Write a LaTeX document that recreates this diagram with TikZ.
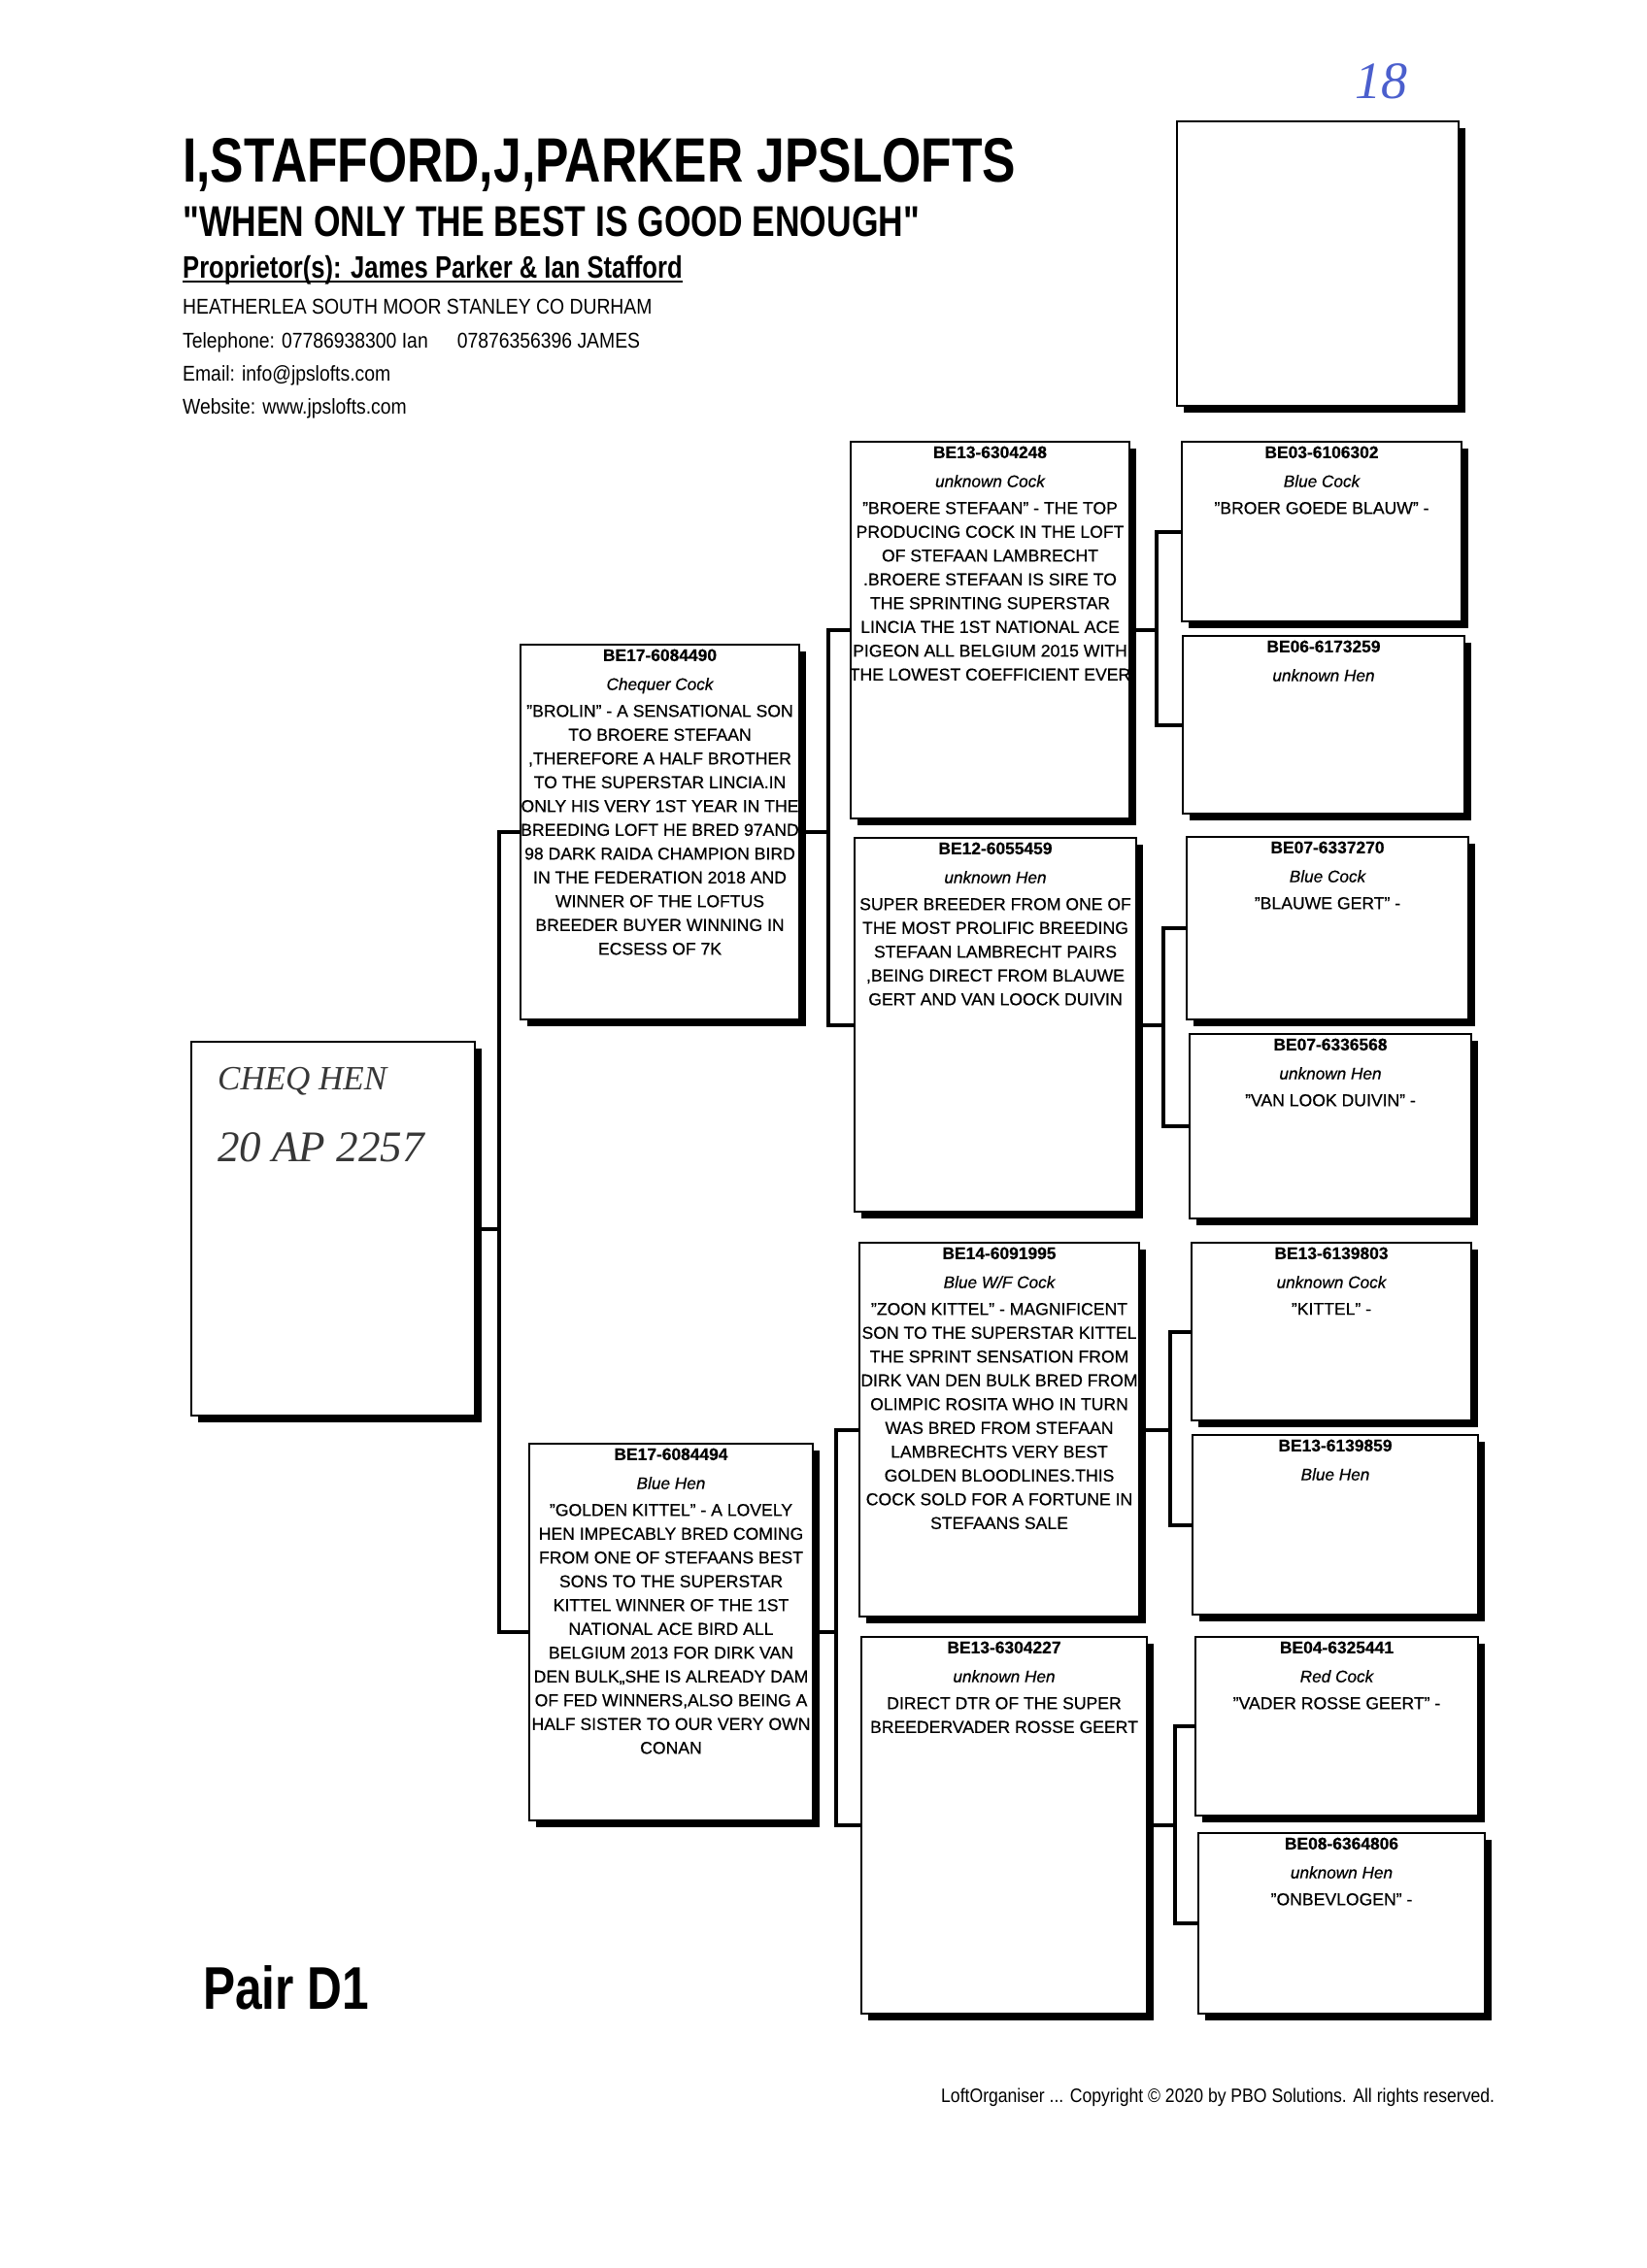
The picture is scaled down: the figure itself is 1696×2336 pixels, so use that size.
\documentclass[tikz,border=0pt]{standalone}
\usepackage{fontspec}
\setmainfont{Liberation Sans}[FakeBold=0.5]
\newfontfamily\headfont{Liberation Sans}[FakeStretch=0.80]
\newfontfamily\addrfont{Liberation Sans}[FakeStretch=0.88]
\newfontfamily\handfont{Liberation Serif}
\usetikzlibrary{shadows,backgrounds}
\definecolor{inkblue}{RGB}{75,95,205}
\definecolor{pencil}{RGB}{55,55,55}
\newcommand{\qt}{\char34\relax}
\tikzset{
  pbox/.style={rectangle, draw=black, line width=1.3pt, fill=white, inner sep=0pt,
    drop shadow={shadow xshift=7pt, shadow yshift=-7pt, opacity=1, fill=black}},
  link/.style={line width=4pt, line join=miter},
  ringtxt/.style={anchor=base, inner sep=0pt, font=\bfseries\fontsize{17.4}{24.5}\selectfont},
  colrtxt/.style={anchor=base, inner sep=0pt, font=\itshape\fontsize{17.2}{24.5}\selectfont},
  desctxt/.style={anchor=north, inner sep=0pt, align=center, font=\fontsize{17.6}{24.5}\selectfont},
  headtxt/.style={anchor=base west, inner sep=0pt},
}
% #1 name, #2 x1, #3 y1, #4 x2, #5 y2, #6 ring, #7 colour, #8 description
\newcommand{\birdbox}[8]{%
  \node[pbox, minimum width={(#4)-(#2)}, minimum height={(#5)-(#3)}] (#1) at ({((#2)+(#4))/2},{((#3)+(#5))/2}) {};
  \node[ringtxt] (#1r) at ([yshift=-17.5pt]#1.north) {#6};
  \node[colrtxt] (#1c) at ([yshift=-47.3pt]#1.north) {#7};
  \node[desctxt] (#1d) at ([yshift=-62.5pt]#1.north) {#8};
}
\newcommand{\birdboxshort}[7]{%
  \node[pbox, minimum width={(#4)-(#2)}, minimum height={(#5)-(#3)}] (#1) at ({((#2)+(#4))/2},{((#3)+(#5))/2}) {};
  \node[ringtxt] (#1r) at ([yshift=-17.5pt]#1.north) {#6};
  \node[colrtxt] (#1c) at ([yshift=-47.3pt]#1.north) {#7};
}
\begin{document}
\begin{tikzpicture}[x=1pt,y=-1pt]
\useasboundingbox (0,0) rectangle (1696,2336);

% ---------- header ----------
\node[headtxt, font=\headfont\bfseries\fontsize{64.5}{70}\selectfont] (title) at (188,188) {I,STAFFORD,J,PARKER JPSLOFTS};
\node[headtxt, font=\headfont\bfseries\fontsize{44.3}{50}\selectfont] (motto) at (188,243) {\qt WHEN ONLY THE BEST IS GOOD ENOUGH\qt};
\node[headtxt, font=\headfont\bfseries\fontsize{32}{36}\selectfont] (prop) at (188,286) {Proprietor(s): James Parker \& Ian Stafford};
\draw[line width=2.5pt] ([yshift=-4pt]prop.base west) -- ([yshift=-4pt]prop.base east);
\node[headtxt, font=\addrfont\fontsize{22}{26}\selectfont] (addr) at (188,323) {HEATHERLEA SOUTH MOOR STANLEY CO DURHAM};
\node[headtxt, font=\addrfont\fontsize{22}{26}\selectfont] (tel) at (188,358) {Telephone: 07786938300 Ian\hspace{30pt}07876356396 JAMES};
\node[headtxt, font=\addrfont\fontsize{22}{26}\selectfont] (mail) at (188,392) {Email: info@jpslofts.com};
\node[headtxt, font=\addrfont\fontsize{22}{26}\selectfont] (web) at (188,426) {Website: www.jpslofts.com};

\node[font=\handfont\itshape\fontsize{54}{60}\selectfont, text=inkblue] (pageno) at (1422,84) {18};

% ---------- photo box ----------
\node[pbox, minimum width=290, minimum height=293] (photo) at (1357,271.5) {};

% ---------- subject ----------
\node[pbox, minimum width=292, minimum height=385] (subj) at (343,1265.5) {};
\node[headtxt, font=\handfont\itshape\fontsize{35}{40}\selectfont, text=pencil] (hand1) at (224,1122) {CHEQ HEN};
\node[headtxt, font=\handfont\itshape\fontsize{45}{50}\selectfont, text=pencil] (hand2) at (224,1196) {20 AP 2257};

% ---------- parents ----------
\birdbox{S}{536}{664}{823}{1050}{BE17-6084490}{Chequer Cock}{\qt BROLIN\qt{} - A SENSATIONAL SON\\TO BROERE STEFAAN\\,THEREFORE A HALF BROTHER\\TO THE SUPERSTAR LINCIA.IN\\ONLY HIS VERY 1ST YEAR IN THE\\BREEDING LOFT HE BRED 97AND\\98 DARK RAIDA CHAMPION BIRD\\IN THE FEDERATION 2018 AND\\WINNER OF THE LOFTUS\\BREEDER BUYER WINNING IN\\ECSESS OF 7K}
\birdbox{D}{545}{1487}{837}{1875}{BE17-6084494}{Blue Hen}{\qt GOLDEN KITTEL\qt{} - A LOVELY\\HEN IMPECABLY BRED COMING\\FROM ONE OF STEFAANS BEST\\SONS TO THE SUPERSTAR\\KITTEL WINNER OF THE 1ST\\NATIONAL ACE BIRD ALL\\BELGIUM 2013 FOR DIRK VAN\\DEN BULK,,SHE IS ALREADY DAM\\OF FED WINNERS,ALSO BEING A\\HALF SISTER TO OUR VERY OWN\\CONAN}

% ---------- grandparents ----------
\birdbox{SS}{876}{455}{1163}{843}{BE13-6304248}{unknown Cock}{\qt BROERE STEFAAN\qt{} - THE TOP\\PRODUCING COCK IN THE LOFT\\OF STEFAAN LAMBRECHT\\.BROERE STEFAAN IS SIRE TO\\THE SPRINTING SUPERSTAR\\LINCIA THE 1ST NATIONAL ACE\\PIGEON ALL BELGIUM 2015 WITH\\THE LOWEST COEFFICIENT EVER}
\birdbox{SD}{880}{863}{1170}{1248}{BE12-6055459}{unknown Hen}{SUPER BREEDER FROM ONE OF\\THE MOST PROLIFIC BREEDING\\STEFAAN LAMBRECHT PAIRS\\,BEING DIRECT FROM BLAUWE\\GERT AND VAN LOOCK DUIVIN}
\birdbox{DS}{885}{1280}{1173}{1665}{BE14-6091995}{Blue W/F Cock}{\qt ZOON KITTEL\qt{} - MAGNIFICENT\\SON TO THE SUPERSTAR KITTEL\\THE SPRINT SENSATION FROM\\DIRK VAN DEN BULK BRED FROM\\OLIMPIC ROSITA WHO IN TURN\\WAS BRED FROM STEFAAN\\LAMBRECHTS VERY BEST\\GOLDEN BLOODLINES.THIS\\COCK SOLD FOR A FORTUNE IN\\STEFAANS SALE}
\birdbox{DD}{887}{1686}{1181}{2074}{BE13-6304227}{unknown Hen}{DIRECT DTR OF THE SUPER\\BREEDERVADER ROSSE GEERT}

% ---------- great-grandparents ----------
\birdbox{SSS}{1217}{455}{1505}{640}{BE03-6106302}{Blue Cock}{\qt BROER GOEDE BLAUW\qt{} -}
\birdboxshort{SSD}{1218}{655}{1508}{838}{BE06-6173259}{unknown Hen}
\birdbox{SDS}{1222}{862}{1512}{1050}{BE07-6337270}{Blue Cock}{\qt BLAUWE GERT\qt{} -}
\birdbox{SDD}{1225}{1065}{1515}{1255}{BE07-6336568}{unknown Hen}{\qt VAN LOOK DUIVIN\qt{} -}
\birdbox{DSS}{1227}{1280}{1515}{1463}{BE13-6139803}{unknown Cock}{\qt KITTEL\qt{} -}
\birdboxshort{DSD}{1228}{1478}{1522}{1663}{BE13-6139859}{Blue Hen}
\birdbox{DDS}{1231}{1686}{1522}{1870}{BE04-6325441}{Red Cock}{\qt VADER ROSSE GEERT\qt{} -}
\birdbox{DDD}{1234}{1888}{1529}{2074}{BE08-6364806}{unknown Hen}{\qt ONBEVLOGEN\qt{} -}

% ---------- connectors ----------
\coordinate (c0) at ([xshift=24pt]subj.east);
\coordinate (c1) at ([xshift=29pt]S.east);
\coordinate (c2) at ([xshift=23pt]D.east);
\coordinate (c3) at ([xshift=27pt]SS.east);
\coordinate (c4) at ([xshift=27pt]SD.east);
\coordinate (c5) at ([xshift=31pt]DS.east);
\coordinate (c6) at ([xshift=28pt]DD.east);
\begin{scope}[on background layer]
  \draw[link] (subj.east) -- (c0);
  \draw[link] (S.west) -| (c0) |- (D.west);
  \draw[link] (S.east) -- (c1);
  \draw[link] (SS.west) -| (c1) |- (SD.west);
  \draw[link] (D.east) -- (c2);
  \draw[link] (DS.west) -| (c2) |- (DD.west);
  \draw[link] (SS.east) -- (c3);
  \draw[link] (SSS.west) -| (c3) |- (SSD.west);
  \draw[link] (SD.east) -- (c4);
  \draw[link] (SDS.west) -| (c4) |- (SDD.west);
  \draw[link] (DS.east) -- (c5);
  \draw[link] (DSS.west) -| (c5) |- (DSD.west);
  \draw[link] (DD.east) -- (c6);
  \draw[link] (DDS.west) -| (c6) |- (DDD.west);
\end{scope}

% ---------- footer ----------
\node[headtxt, font=\headfont\bfseries\fontsize{62}{70}\selectfont] (pair) at (209,2069) {Pair D1};
\node[headtxt, font=\addrfont\fontsize{20}{24}\selectfont] (copy) at (969,2165) {LoftOrganiser ... Copyright \textcopyright{} 2020 by PBO Solutions. All rights reserved.};
\end{tikzpicture}
\end{document}
